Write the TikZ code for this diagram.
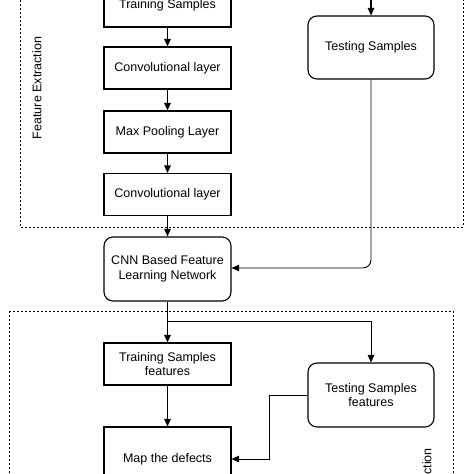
\documentclass[tikz,border=0pt]{standalone}
\usepackage{fontspec}
\setmainfont{Liberation Sans}
\usetikzlibrary{arrows.meta, positioning}

\tikzset{
  stage/.style={draw, line width=1.1pt, minimum width=127pt, minimum height=42pt,
    align=center, inner sep=2pt, font=\fontsize{12.5}{14.5}\selectfont},
  roundstage/.style={stage, rounded corners=9pt, minimum height=64pt},
  group/.style={draw, line width=0.8pt, dash pattern=on 2pt off 2pt},
  flow/.style={-{Triangle[length=7.5pt,width=6.5pt]}, line width=1.2pt},
  thinflow/.style={-{Triangle[length=7.5pt,width=6.5pt]}, line width=0.9pt},
}

\begin{document}
\begin{tikzpicture}[x=1pt, y=-1pt]
    \useasboundingbox (0,0) rectangle (474,474);
    \clip (0,0) rectangle (474,474);

    % Dashed groups
    \draw[group] (20,-20) rectangle (463,227);
    \draw[group] (9,311) rectangle (453,520);
    \node[rotate=90, font=\fontsize{12.5}{14.5}\selectfont] (fe) at (37,88) {Feature Extraction};
    \node[rotate=90, anchor=east, inner sep=0pt, font=\fontsize{12.5}{14.5}\selectfont] (dd) at (427,448) {ction};

    % Left column
    \node[stage, minimum height=44pt] (train) at (167.5,5) {Training Samples};
    \node[stage] (conv1) at (167.5,68) {Convolutional layer};
    \node[stage] (pool) at (167.5,132) {Max Pooling Layer};
    \node[stage] (conv2) at (167.5,194.5) {Convolutional layer};
    \node[roundstage] (cnn) at (167.5,269) {CNN Based Feature\\Learning Network};
    \node[stage] (trainfeat) at (167.5,364) {Training Samples\\features};
    \node[stage, minimum height=64pt] (map) at (167.5,459) {Map the defects};

    % Right column
    \node[roundstage, minimum width=126pt, minimum height=63pt] (test) at (371,47.5) {Testing Samples};
    \node[roundstage, minimum width=126pt] (testfeat) at (371,395) {Testing Samples\\features};

    % Connectors
    \coordinate (testin) at (371,-10);
    \coordinate (split) at (167.5,321);
    \draw[flow] (train) -- (conv1);
    \draw[flow] (conv1) -- (pool);
    \draw[flow] (pool) -- (conv2);
    \draw[flow] (conv2) -- (cnn);
    \draw[flow] (testin) -- (test);
    \draw[thinflow, rounded corners=8pt] (test.south) |- ([yshift=1pt]cnn.east);
    \draw[flow] (cnn) -- (trainfeat);
    \draw[thinflow] (split) -| (testfeat.north);
    \draw[flow] (trainfeat) -- (map);
    \draw[thinflow] (testfeat.west) -- ++(-38,0) |- (map.east);
\end{tikzpicture}
\end{document}
